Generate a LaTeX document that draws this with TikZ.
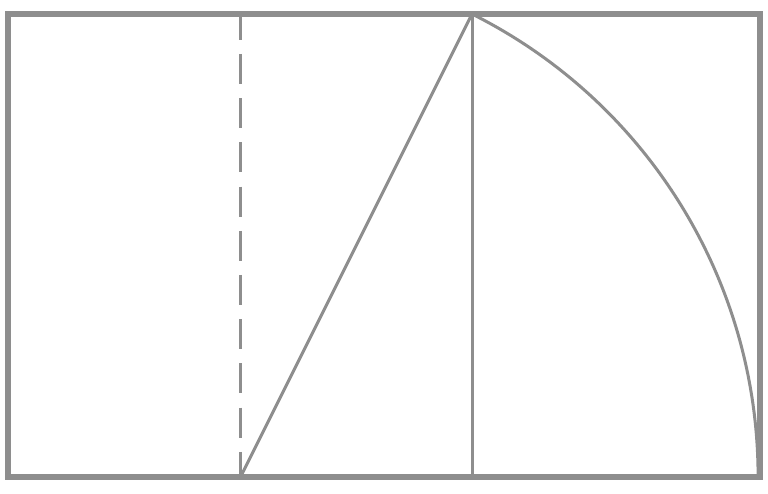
\documentclass[tikz,border=0pt]{standalone}
\begin{document}
\begin{tikzpicture}[x=1pt,y=-1pt,
  frame/.style={draw=linegray,line width=6pt},
  thin/.style={draw=linegray,line width=3pt}]
\definecolor{linegray}{HTML}{8E8E8E}
\useasboundingbox (0,0) rectangle (768,494);
\coordinate (TL) at (8,14);
\coordinate (BR) at (759.5,477);
\coordinate (M) at (240.5,477);
\coordinate (MT) at (240.5,14);
\coordinate (ST) at (472,14);
\coordinate (SB) at (472,477);
\draw[thin,dash pattern=on 30 off 14.2,dash phase=4.2] (MT) -- (M);
\draw[thin] (ST) -- (SB);
\draw[thin] (M) -- (ST);
\draw[thin] (ST) arc[start angle=-63.43,end angle=0,radius=517.6];
\draw[frame] (TL) rectangle (BR);
\end{tikzpicture}
\end{document}
